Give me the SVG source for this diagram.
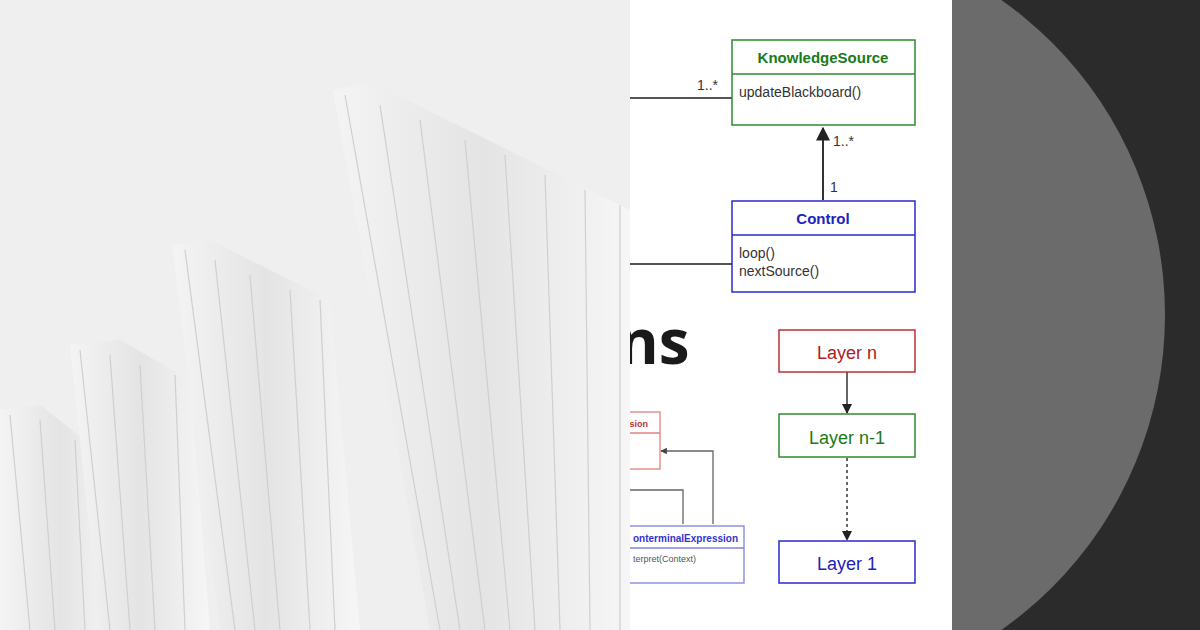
<svg xmlns="http://www.w3.org/2000/svg" width="1200" height="630" viewBox="0 0 1200 630">
<defs>
<linearGradient id="fan" x1="0" y1="0" x2="1" y2="0"><stop offset="0" stop-color="#f4f4f4"/><stop offset="0.5" stop-color="#e4e4e4"/><stop offset="1" stop-color="#f6f6f6"/></linearGradient>
<clipPath id="mid"><rect x="630" y="0" width="322" height="630"/></clipPath>
<clipPath id="left"><rect x="0" y="0" width="630" height="630"/></clipPath>
<marker id="ah" viewBox="0 0 10 10" refX="9" refY="5" markerWidth="7" markerHeight="7" orient="auto"><path d="M0,0 L10,5 L0,10 z" fill="#222"/></marker>
<marker id="sa" viewBox="0 0 10 10" refX="9" refY="5" markerWidth="5" markerHeight="5" orient="auto"><path d="M0,0 L10,5 L0,10 z" fill="#444"/></marker>
</defs>
<style>
.box{fill:#fff;stroke-width:1.5}
.t{font-family:"Liberation Sans",Arial,sans-serif}
.ln{stroke:#555;stroke-width:2;fill:none}
.rib{stroke:#cfcfcf;stroke-width:1.2}
</style>
<rect width="1200" height="630" fill="#efefef"/>
<g clip-path="url(#left)">
<polygon points="0,410 40,405 110,460 120,630 0,630" fill="url(#fan)"/>
<polygon points="70,345 120,340 190,380 210,630 100,630" fill="url(#fan)"/>
<polygon points="172,245 210,240 330,300 360,630 220,630" fill="url(#fan)"/>
<polygon points="333,90 370,82 630,210 630,630 430,630" fill="url(#fan)"/>
<g class="rib">
<line x1="345" y1="95" x2="440" y2="630"/><line x1="380" y1="105" x2="460" y2="630"/><line x1="420" y1="120" x2="485" y2="630"/><line x1="465" y1="140" x2="510" y2="630"/><line x1="505" y1="155" x2="535" y2="630"/><line x1="545" y1="175" x2="560" y2="630"/><line x1="585" y1="190" x2="590" y2="630"/><line x1="620" y1="205" x2="620" y2="630"/>
<line x1="185" y1="250" x2="235" y2="630"/><line x1="215" y1="260" x2="255" y2="630"/><line x1="250" y1="275" x2="280" y2="630"/><line x1="290" y1="290" x2="310" y2="630"/><line x1="320" y1="300" x2="335" y2="630"/>
<line x1="80" y1="350" x2="110" y2="630"/><line x1="110" y1="355" x2="130" y2="630"/><line x1="140" y1="365" x2="155" y2="630"/><line x1="175" y1="375" x2="185" y2="630"/>
<line x1="10" y1="415" x2="30" y2="630"/><line x1="40" y1="420" x2="55" y2="630"/><line x1="75" y1="440" x2="85" y2="630"/>
</g>
</g>
<rect x="630" y="0" width="322" height="630" fill="#fff"/>
<rect x="952" y="0" width="248" height="630" fill="#2b2b2b"/>
<g clip-path="url(#rc)"><circle cx="780" cy="315" r="385" fill="#6b6b6b"/></g>
<clipPath id="rc"><rect x="952" y="0" width="248" height="630"/></clipPath>
<g clip-path="url(#mid)">
<text x="618" y="364" class="t" font-size="62" font-weight="bold" fill="#1a1a1a" style="font-family:'Open Sans',sans-serif">ns</text>
<g id="connectors">
<line class="ln" x1="630" y1="98" x2="732" y2="98"/>
<line class="ln" x1="630" y1="264" x2="732" y2="264"/>
<line x1="823" y1="200" x2="823" y2="128" stroke="#333" stroke-width="2" marker-end="url(#ah)"/>
<line x1="847" y1="372" x2="847" y2="413" stroke="#333" stroke-width="1.5" marker-end="url(#ah)"/>
<line x1="847" y1="458" x2="847" y2="540" stroke="#333" stroke-width="1.5" stroke-dasharray="3,3" marker-end="url(#ah)"/>
<polyline points="713,524 713,451 661,451" stroke="#666" stroke-width="1.3" fill="none" marker-end="url(#sa)"/>
<polyline points="630,490 683,490 683,524" stroke="#666" stroke-width="1.3" fill="none"/>
<text x="697" y="90" class="t" font-size="14" fill="#333">1..*</text>
<text x="833" y="146" class="t" font-size="14" fill="#333">1..*</text>
<text x="830" y="192" class="t" font-size="14" fill="#333">1</text>
</g>
<g id="knowledge">
<rect class="box" x="732" y="40" width="183" height="85" stroke="#2e8b2e"/>
<line x1="732" y1="74" x2="915" y2="74" stroke="#2e8b2e" stroke-width="1.5"/>
<text x="823" y="63" class="t" font-size="15" font-weight="bold" fill="#1a7a1a" text-anchor="middle">KnowledgeSource</text>
<text x="739" y="97" class="t" font-size="14" fill="#333">updateBlackboard()</text>
</g>
<g id="control">
<rect class="box" x="732" y="201" width="183" height="91" stroke="#2a2acc"/>
<line x1="732" y1="235" x2="915" y2="235" stroke="#2a2acc" stroke-width="1.5"/>
<text x="823" y="224" class="t" font-size="15" font-weight="bold" fill="#2222bb" text-anchor="middle">Control</text>
<text x="739" y="258" class="t" font-size="14" fill="#333">loop()</text>
<text x="739" y="276" class="t" font-size="14" fill="#333">nextSource()</text>
</g>
<g id="layern">
<rect class="box" x="779" y="330" width="136" height="42" stroke="#c03030"/>
<text x="847" y="359" class="t" font-size="18" fill="#b02020" text-anchor="middle">Layer n</text>
</g>
<g id="layern1">
<rect class="box" x="779" y="414" width="136" height="43" stroke="#2e8b2e"/>
<text x="847" y="444" class="t" font-size="18" fill="#1a7a1a" text-anchor="middle">Layer n-1</text>
</g>
<g id="layer1">
<rect class="box" x="779" y="541" width="136" height="42" stroke="#2a2acc"/>
<text x="847" y="570" class="t" font-size="18" fill="#2222bb" text-anchor="middle">Layer 1</text>
</g>
<g id="expr">
<rect x="600" y="412" width="60" height="57" fill="#fff" stroke="#e08080" stroke-width="1.3"/>
<line x1="600" y1="433" x2="660" y2="433" stroke="#e08080" stroke-width="1.3"/>
<text x="648" y="427" class="t" font-size="9" font-weight="bold" fill="#c03030" text-anchor="end">sion</text>
</g>
<g id="nonterminal">
<rect x="600" y="526" width="144" height="57" fill="#fff" stroke="#8080e0" stroke-width="1.3"/>
<line x1="600" y1="548" x2="744" y2="548" stroke="#8080e0" stroke-width="1.3"/>
<text x="633" y="542" class="t" font-size="10" font-weight="bold" fill="#3333cc">onterminalExpression</text>
<text x="633" y="562" class="t" font-size="9" fill="#555">terpret(Context)</text>
</g>
</g>
</svg>
